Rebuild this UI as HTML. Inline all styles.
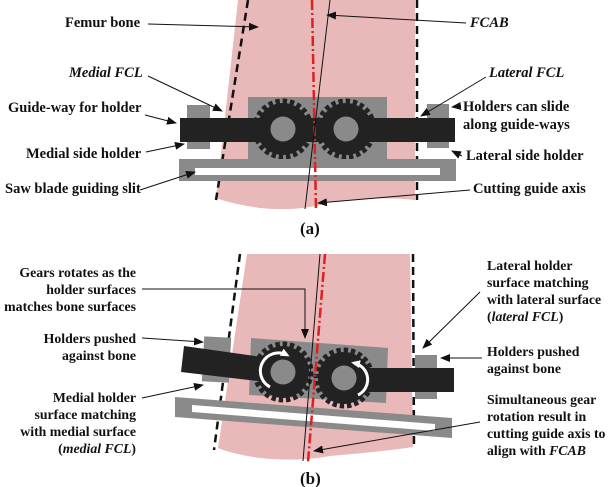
<!DOCTYPE html>
<html><head><meta charset="utf-8"><style>
html,body{margin:0;padding:0;background:#fff}
svg{display:block}
text{font-family:"Liberation Serif",serif;font-weight:bold;font-size:14.5px;fill:#111}
.b text{font-size:13.8px}
.i{font-style:italic}
.r{text-anchor:end}
text.lab{font-size:17px}
</style></head><body>
<svg width="609" height="487" viewBox="0 0 609 487" xmlns="http://www.w3.org/2000/svg">
<defs>
<marker id="ah" markerWidth="10" markerHeight="8" refX="9" refY="4" orient="auto" markerUnits="userSpaceOnUse">
<path d="M0,0 L10,4 L0,8 z" fill="#111"/></marker>
<marker id="wh" markerWidth="9" markerHeight="8" refX="6" refY="4" orient="auto" markerUnits="userSpaceOnUse">
<path d="M0,0 L9,4 L0,8 z" fill="#fff"/></marker>
<g id="gear">
<circle r="26" fill="#222"/>
<circle r="28" fill="none" stroke="#222" stroke-width="5" stroke-dasharray="4.4 2.9"/>
<circle r="12.5" fill="#8a8a8a"/>
</g>
</defs>

<!-- Panel a -->
<path d="M238,0 L415,0 L415,200 Q380,196 330,202 Q300,212 260,208 Q232,204 216,198 Z" fill="#e9b9b9"/>
<line x1="248" y1="0" x2="216" y2="200" stroke="#111" stroke-width="2.5" stroke-dasharray="8 5"/>
<line x1="417" y1="0" x2="417" y2="200" stroke="#111" stroke-width="2.5" stroke-dasharray="8 5"/>
<rect x="248" y="97" width="139" height="63" fill="#8a8a8a"/>
<rect x="187" y="105" width="23" height="44" fill="#8a8a8a"/>
<rect x="427" y="104" width="22" height="44" fill="#8a8a8a"/>
<rect x="180" y="118" width="275" height="24" fill="#222"/>
<use href="#gear" x="283" y="129"/>
<use href="#gear" x="346" y="129"/>
<rect x="179" y="159" width="277" height="22" fill="#8a8a8a"/>
<rect x="195" y="168" width="245" height="7" fill="#fff"/>
<line x1="312" y1="0" x2="316" y2="210" stroke="#e02020" stroke-width="2.5" stroke-dasharray="10 3 2 3"/>
<line x1="330" y1="0" x2="305" y2="209" stroke="#111" stroke-width="1"/>

<text x="65" y="27">Femur bone</text>
<line x1="148" y1="24" x2="258" y2="27" stroke="#111" marker-end="url(#ah)"/>
<text x="470" y="27" class="i">FCAB</text>
<line x1="466" y1="23" x2="327" y2="15" stroke="#111" marker-end="url(#ah)"/>
<text x="69" y="77" class="i">Medial FCL</text>
<line x1="148" y1="76" x2="222" y2="111" stroke="#111" marker-end="url(#ah)"/>
<text x="489" y="77" class="i">Lateral FCL</text>
<line x1="486" y1="77" x2="421" y2="116" stroke="#111" marker-end="url(#ah)"/>
<text x="8" y="112">Guide-way for holder</text>
<line x1="145" y1="115" x2="176" y2="123" stroke="#111" marker-end="url(#ah)"/>
<text x="463" y="111">Holders can slide</text>
<text x="463" y="129">along guide-ways</text>
<line x1="461" y1="106" x2="452" y2="107" stroke="#111" marker-end="url(#ah)"/>
<text x="26" y="158">Medial side holder</text>
<line x1="146" y1="152" x2="184" y2="144" stroke="#111" marker-end="url(#ah)"/>
<text x="466" y="160">Lateral side holder</text>
<line x1="462" y1="156" x2="452" y2="151" stroke="#111" marker-end="url(#ah)"/>
<text x="5" y="193">Saw blade guiding slit</text>
<line x1="140" y1="190" x2="195" y2="172" stroke="#111" marker-end="url(#ah)"/>
<text x="473" y="193">Cutting guide axis</text>
<line x1="470" y1="190" x2="318" y2="203" stroke="#111" marker-end="url(#ah)"/>
<text x="300" y="234" class="lab">(a)</text>

<!-- Panel b -->
<g class="b">
<path d="M247,254 L410,254 L413,447 Q380,452 330,456 Q300,462 260,458 Q232,454 218,448 Z" fill="#e9b9b9"/>
<line x1="240" y1="254" x2="214" y2="450" stroke="#111" stroke-width="2.5" stroke-dasharray="8 5"/>
<line x1="413" y1="254" x2="414" y2="448" stroke="#111" stroke-width="2.5" stroke-dasharray="8 5"/>
<polygon points="251,338 388,348 386,403 249,395" fill="#8a8a8a"/>
<rect x="203" y="337" width="27" height="45" fill="#8a8a8a" transform="rotate(3 216 360)"/>
<rect x="415" y="355" width="22" height="44" fill="#8a8a8a"/>
<polygon points="184,346 283,360 283,384 181,372" fill="#222"/>
<rect x="344" y="368" width="110" height="24" fill="#222"/>
<use href="#gear" x="283" y="372"/>
<use href="#gear" x="344" y="378"/>
<path d="M270,387 A17,17 0 0 1 287,355" fill="none" stroke="#fff" stroke-width="3" marker-end="url(#wh)"/>
<path d="M358,395 A17,17 0 0 0 354,363" fill="none" stroke="#fff" stroke-width="3" marker-end="url(#wh)"/>
<polygon points="175,397 452,418 452,438 175,417" fill="#8a8a8a"/>
<polygon points="192,405 435,424 435,431 192,412" fill="#fff"/>
<line x1="325" y1="254" x2="308" y2="462" stroke="#e02020" stroke-width="2.5" stroke-dasharray="10 3 2 3"/>
<line x1="320" y1="254" x2="303" y2="461" stroke="#111" stroke-width="1"/>

<text x="136" y="277" class="r">Gears rotates as the</text>
<text x="136" y="294" class="r">holder surfaces</text>
<text x="136" y="311" class="r">matches bone surfaces</text>
<polyline points="142,289 305,289 305,338" fill="none" stroke="#111" marker-end="url(#ah)"/>
<text x="487" y="270">Lateral holder</text>
<text x="487" y="287">surface matching</text>
<text x="487" y="304">with lateral surface</text>
<text x="487" y="321">(<tspan class="i">lateral FCL</tspan>)</text>
<line x1="480" y1="292" x2="423" y2="348" stroke="#111" marker-end="url(#ah)"/>
<text x="136" y="343" class="r">Holders pushed</text>
<text x="136" y="360" class="r">against bone</text>
<line x1="142" y1="338" x2="203" y2="342" stroke="#111" marker-end="url(#ah)"/>
<text x="487" y="356">Holders pushed</text>
<text x="487" y="373">against bone</text>
<line x1="482" y1="358" x2="441" y2="358" stroke="#111" marker-end="url(#ah)"/>
<text x="136" y="402" class="r">Medial holder</text>
<text x="136" y="419" class="r">surface matching</text>
<text x="136" y="436" class="r">with medial surface</text>
<text x="136" y="453" class="r">(<tspan class="i">medial FCL</tspan>)</text>
<line x1="142" y1="398" x2="203" y2="385" stroke="#111" marker-end="url(#ah)"/>
<text x="487" y="404">Simultaneous gear</text>
<text x="487" y="421">rotation result in</text>
<text x="487" y="438">cutting guide axis to</text>
<text x="487" y="455">align with <tspan class="i">FCAB</tspan></text>
<line x1="480" y1="422" x2="314" y2="451" stroke="#111" marker-end="url(#ah)"/>
<text x="300" y="484" class="lab">(b)</text>
</g>
</svg>
</body></html>
